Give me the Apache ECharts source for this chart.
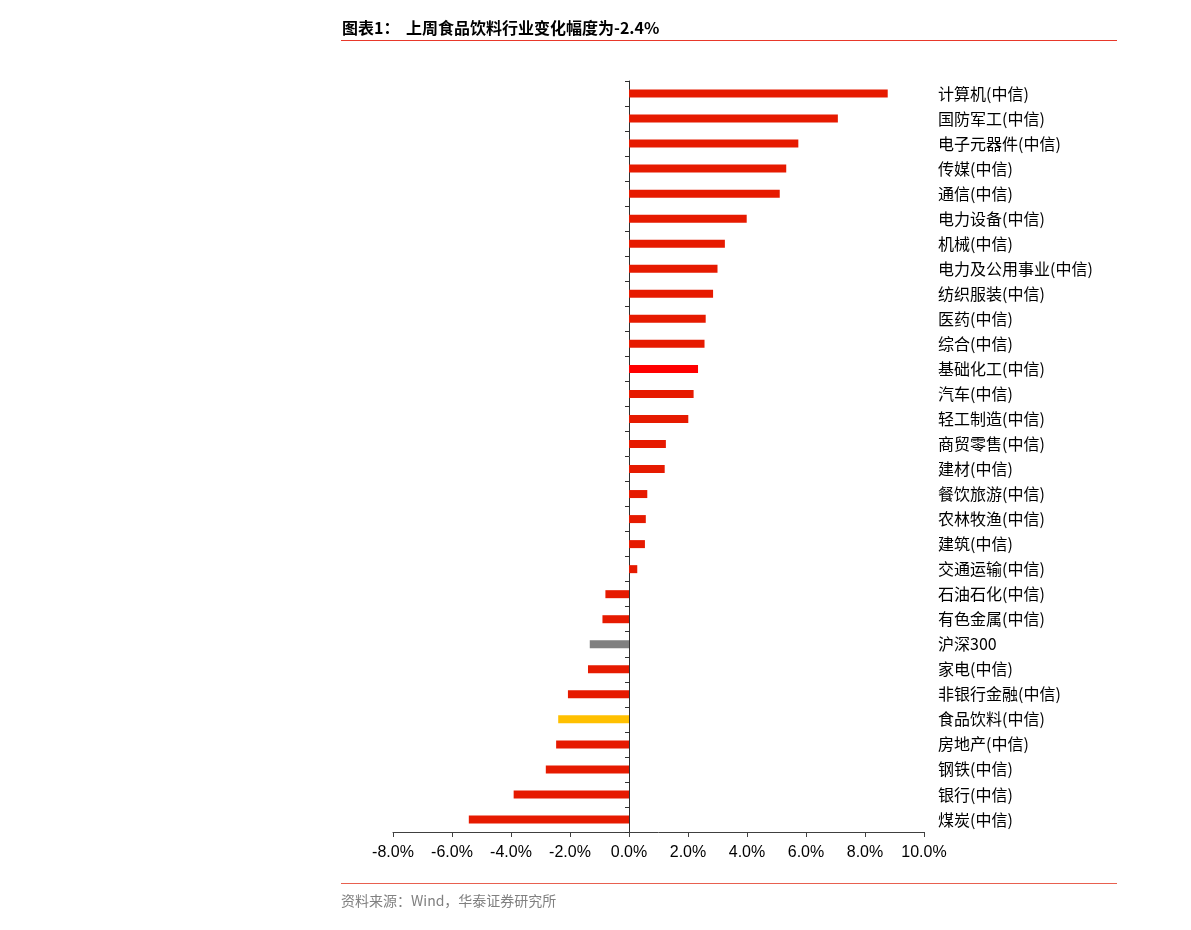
<!DOCTYPE html>
<html>
<head>
<meta charset="utf-8">
<script src="https://cdn.jsdelivr.net/npm/echarts@6/dist/echarts.min.js"></script>
<style>
html,body{margin:0;padding:0;background:#fff;}
#main{width:1191px;height:930px;}
</style>
</head>
<body>
<div id="main"></div>
<script>
const categories = ['计算机(中信)','国防军工(中信)','电子元器件(中信)','传媒(中信)','通信(中信)','电力设备(中信)','机械(中信)','电力及公用事业(中信)','纺织服装(中信)','医药(中信)','综合(中信)','基础化工(中信)','汽车(中信)','轻工制造(中信)','商贸零售(中信)','建材(中信)','餐饮旅游(中信)','农林牧渔(中信)','建筑(中信)','交通运输(中信)','石油石化(中信)','有色金属(中信)','沪深300','家电(中信)','非银行金融(中信)','食品饮料(中信)','房地产(中信)','钢铁(中信)','银行(中信)','煤炭(中信)'];
const values = [8.77,7.08,5.74,5.33,5.11,3.99,3.25,3.00,2.85,2.60,2.56,2.34,2.19,2.01,1.25,1.21,0.62,0.57,0.54,0.28,-0.80,-0.90,-1.33,-1.39,-2.07,-2.40,-2.47,-2.82,-3.91,-5.43];
const xTicks = {min: -8, max: 10, interval: 2};
const titleText = '图表1：';
const subtitleText = '上周食品饮料行业变化幅度为-2.4%';
const sourceText = '资料来源：Wind，华泰证券研究所';

const chart = echarts.init(document.getElementById('main'));
function barColor(name){
  if (name === '沪深300') return '#808080';
  if (name === '食品饮料(中信)') return '#FFC000';
  if (name === '基础化工(中信)') return '#FF0000';
  return '#E61A00';
}
chart.setOption({
  animation: false,
  grid: {left: 393, right: 267, top: 81, bottom: 98},
  xAxis: {
    type: 'value', min: xTicks.min, max: xTicks.max, interval: xTicks.interval,
    axisLine: {show: true, onZero: false, lineStyle: {color: '#404040', width: 1}},
    axisTick: {show: true, length: 5, lineStyle: {color: '#404040'}},
    splitLine: {show: false},
    axisLabel: {margin: 13, color: '#000', fontSize: 16, fontFamily: 'Liberation Sans, Arial, sans-serif',
      formatter: v => v.toFixed(1) + '%'}
  },
  yAxis: [{
    type: 'category', data: categories, inverse: true, position: 'left',
    axisLine: {show: true, onZero: true, lineStyle: {color: '#303030', width: 1}},
    axisTick: {show: true, length: 4, inside: false, lineStyle: {color: '#303030'}},
    axisLabel: {show: false}
  },{
    type: 'category', data: categories, inverse: true, position: 'right',
    axisLine: {show: false}, axisTick: {show: false},
    axisLabel: {show: true, margin: 14, color: '#000', fontSize: 16, fontFamily: 'Noto Sans CJK SC, sans-serif'}
  }],
  series: [{
    type: 'bar', yAxisIndex: 0, barWidth: 8,
    data: values.map((v, i) => ({value: v, itemStyle: {color: barColor(categories[i])}}))
  }],
  graphic: [
    {type: 'text', left: 342, top: 20, style: {text: titleText, font: 'bold 16px "Noto Sans CJK SC", sans-serif', fill: '#000'}},
    {type: 'text', left: 406, top: 20, style: {text: subtitleText, font: 'bold 16px "Noto Sans CJK SC", sans-serif', fill: '#000'}},
    {type: 'line', shape: {x1: 341, y1: 40.5, x2: 1117, y2: 40.5}, style: {stroke: '#E8382A', lineWidth: 1}},
    {type: 'line', shape: {x1: 341, y1: 883.5, x2: 1117, y2: 883.5}, style: {stroke: '#E8604F', lineWidth: 1}},
    {type: 'text', left: 341, top: 894, style: {text: sourceText, font: '14px "Noto Sans CJK SC", sans-serif', fill: '#808080'}}
  ]
});
</script>
</body>
</html>
